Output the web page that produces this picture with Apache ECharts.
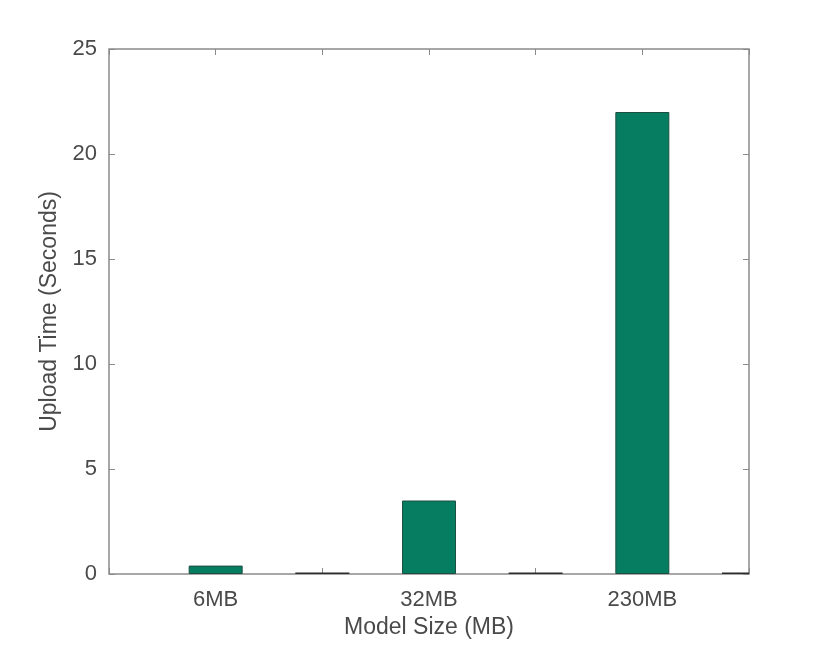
<!DOCTYPE html>
<html>
<head>
<meta charset="utf-8">
<script src="https://cdn.jsdelivr.net/npm/echarts@6/dist/echarts.min.js"></script>
<style>
html,body{margin:0;padding:0;background:#fff;}
#chart{width:832px;height:648px;}
</style>
</head>
<body>
<div id="chart"></div>
<script>
var categories = ['6MB', '32MB', '230MB'];
var uploadSeconds = [0.4, 3.5, 22];
var secondSeries = [0, 0, 0];
var yTicks = [0, 5, 10, 15, 20, 25];

var mainData = categories.map(function (c, i) { return [i, uploadSeconds[i]]; });
var zeroData = categories.map(function (c, i) { return [i + 0.5, secondSeries[i]]; });

var textColor = '#4a4a4a';
var axisColor = '#8a8a8a';
var font = 'Liberation Sans, Arial, sans-serif';
var BAR_W = 54;

var chart = echarts.init(document.getElementById('chart'));
chart.setOption({
  animation: false,
  backgroundColor: '#fff',
  grid: { left: 109, right: 83, top: 49, bottom: 74, show: true, borderColor: axisColor, borderWidth: 1.5 },
  xAxis: [{
    type: 'value', min: -0.5, max: 2.5, interval: 0.5,
    name: 'Model Size (MB)', nameLocation: 'middle', nameGap: 42,
    nameTextStyle: { fontSize: 23, color: textColor, fontFamily: font },
    axisLine: { show: false, onZero: false },
    axisTick: { show: true, inside: true, length: 6, lineStyle: { color: axisColor } },
    splitLine: { show: false },
    axisLabel: {
      margin: 15, fontSize: 22, color: textColor, fontFamily: font, showMinLabel: true, showMaxLabel: true,
      formatter: function (v) {
        var i = Math.round(v);
        return (Math.abs(v - i) < 1e-6 && i >= 0 && i < categories.length) ? categories[i] : '';
      }
    }
  }, {
    type: 'value', min: -0.5, max: 2.5, interval: 0.5, position: 'top',
    axisLine: { show: false, onZero: false },
    axisTick: { show: true, inside: true, length: 6, lineStyle: { color: axisColor } },
    axisLabel: { show: false }, splitLine: { show: false }
  }],
  yAxis: [{
    type: 'value', min: yTicks[0], max: yTicks[yTicks.length - 1], interval: 5,
    name: 'Upload Time (Seconds)', nameLocation: 'middle', nameGap: 38,
    nameTextStyle: { fontSize: 23, color: textColor, fontFamily: font },
    axisLine: { show: false, onZero: false },
    axisTick: { show: true, inside: true, length: 6, lineStyle: { color: axisColor } },
    splitLine: { show: false },
    axisLabel: { margin: 12, fontSize: 22, color: textColor, fontFamily: font }
  }, {
    type: 'value', min: yTicks[0], max: yTicks[yTicks.length - 1], interval: 5, position: 'right',
    axisLine: { show: false, onZero: false },
    axisTick: { show: true, inside: true, length: 6, lineStyle: { color: axisColor } },
    axisLabel: { show: false }, splitLine: { show: false }
  }],
  series: [{
    type: 'bar', data: mainData, barWidth: BAR_W, barGap: '-100%', clip: true,
    itemStyle: { color: '#067d60', borderColor: '#1d4f40', borderWidth: 1 }
  }, {
    type: 'custom', data: zeroData,
    renderItem: function (params, api) {
      var top = api.coord([api.value(0), api.value(1)]);
      var base = api.coord([api.value(0), 0]);
      var h = Math.max(base[1] - top[1], 1.5);
      var rect = echarts.graphic.clipRectByRect(
        { x: top[0] - BAR_W / 2, y: base[1] - h, width: BAR_W, height: h },
        { x: params.coordSys.x, y: params.coordSys.y - 2, width: params.coordSys.width, height: params.coordSys.height + 4 }
      );
      return rect && { type: 'rect', shape: rect, style: { fill: '#2b2b2b' } };
    }
  }]
});
</script>
</body>
</html>
